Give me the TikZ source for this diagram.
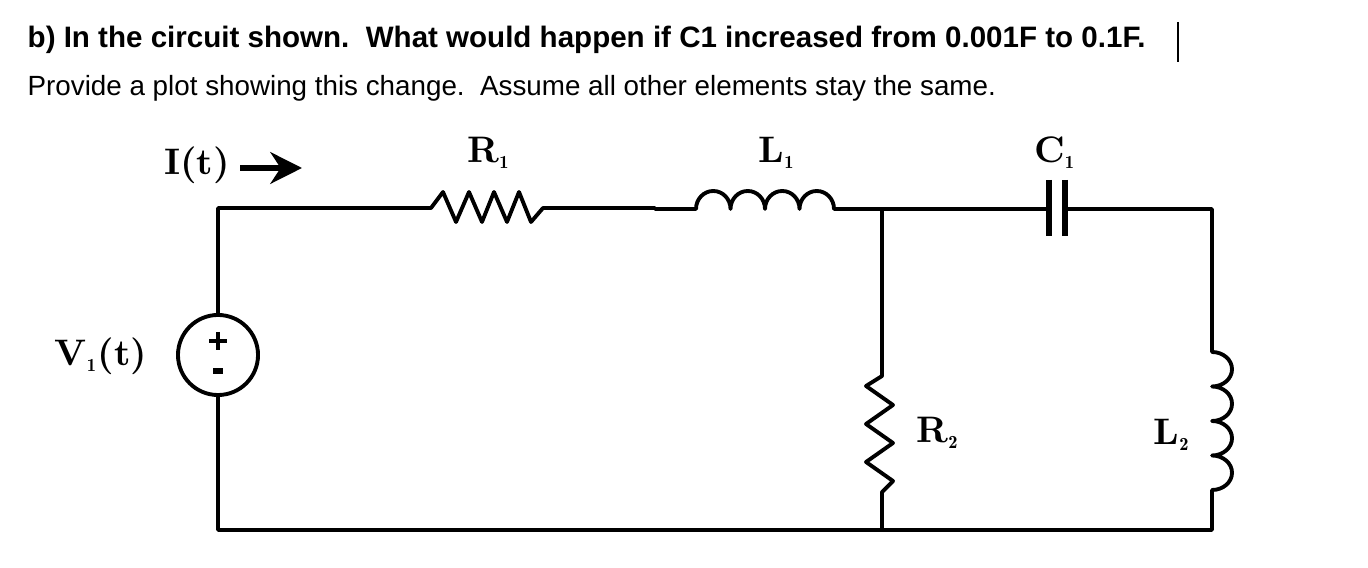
\documentclass[tikz,border=0pt]{standalone}
\usepackage{fontspec}
\newfontfamily\hsans{Liberation Sans}
\usetikzlibrary{arrows.meta}
\newcommand{\sbx}[1]{\ensuremath{_{\scriptscriptstyle\mathbf{#1}}}}
\begin{document}
\begin{tikzpicture}[x=0.01cm,y=-0.01cm,
  wire/.style={line width=1.1pt,line join=round},
  lbl/.style={font=\fontsize{10.5}{11}\selectfont\bfseries},
  hdr/.style={anchor=west,inner sep=0pt,font=\hsans\fontsize{7.9}{9}\selectfont}]
\useasboundingbox (0,0) rectangle (1368,568);
\node[hdr,font=\hsans\bfseries\fontsize{8.4}{9}\selectfont] (h1) at (27,40) {b) In the circuit shown.\ \ What would happen if C1 increased from 0.001F to 0.1F.};
\draw[line width=0.35pt] (1178,22) -- (1178,62);
\node[hdr] (h2) at (27,88) {Provide a plot showing this change.\ \ Assume all other elements stay the same.};
\coordinate (tl) at (218,208);
\coordinate (bl) at (218,530);
\coordinate (j) at (882,209);
\coordinate (jb) at (882,530);
\coordinate (tr) at (1212,209);
\coordinate (br) at (1212,530);
\node[draw,circle,line width=1.1pt,minimum size=0.8cm,inner sep=0pt] (src) at (218,355) {};
\draw[line width=1.4pt] (218,332) -- (218,350) (209,341) -- (227,341);
\draw[line width=1.8pt] (213,371) -- (223,371);
\draw[wire] (src.north) -- (tl) -- (431,208)
  -- (443,192) -- (456,222) -- (469,192) -- (482,222) -- (494,192) -- (507,222) -- (519,192) -- (531,222) -- (543,208) -- (655,208) -- (655,209) -- (696,209)
  arc[start angle=180,end angle=0,x radius=17.25,y radius=-18]
  arc[start angle=180,end angle=0,x radius=17.25,y radius=-18]
  arc[start angle=180,end angle=0,x radius=17.25,y radius=-18]
  arc[start angle=180,end angle=0,x radius=17.25,y radius=-18] -- (j) -- (1049,209);
\draw[line width=1.6pt] (1049,180) -- (1049,236) (1065,180) -- (1065,236);
\draw[wire] (1065,209) -- (tr) -- (1212,352)
  arc[start angle=90,end angle=-90,x radius=20,y radius=-17.25]
  arc[start angle=90,end angle=-90,x radius=20,y radius=-17.25]
  arc[start angle=90,end angle=-90,x radius=20,y radius=-17.25]
  arc[start angle=90,end angle=-90,x radius=20,y radius=-17.25] -- (br) -- (bl) -- (src.south);
\draw[wire] (j) -- (882,376) -- (866,386) -- (893,405) -- (866,424) -- (893,443) -- (866,462) -- (893,481) -- (882,492) -- (jb);
\node[lbl] (lR1) at (489,153) {R\sbx{1}};
\node[lbl] (lL1) at (777,153) {L\sbx{1}};
\node[lbl] (lC1) at (1055,153) {C\sbx{1}};
\node[lbl] (lV1) at (101,356) {V\sbx{1}(t)};
\node[lbl] (lR2) at (938,433) {R\sbx{2}};
\node[lbl] (lL2) at (1172,435) {L\sbx{2}};
\node[lbl] (lI) at (197,165) {I(t)};
\coordinate (a1) at (240,168);
\coordinate (a2) at (302,168);
\draw[line width=1.5pt,-{Stealth[length=9pt,width=9pt]}] (a1) -- (a2);
\end{tikzpicture}
\end{document}
